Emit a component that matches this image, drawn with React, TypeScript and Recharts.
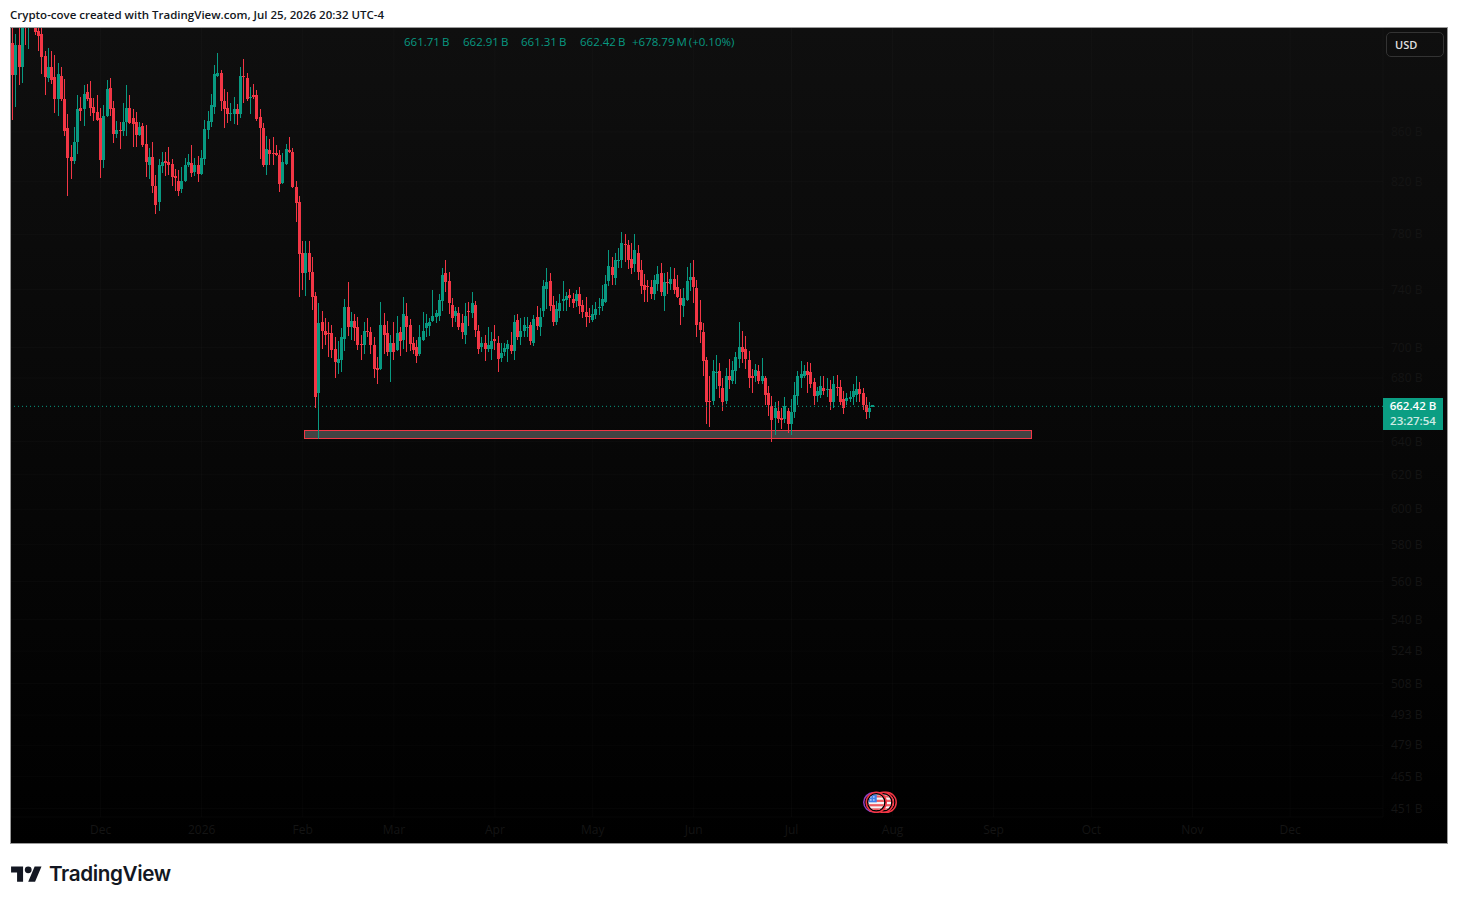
import { Bar, BarChart, CartesianGrid, ReferenceArea, ReferenceDot, ReferenceLine, XAxis, YAxis } from 'recharts';

const UI_FONT = '"Open Sans", "Noto Sans", sans-serif';
const UP = '#089981';
const DOWN = '#F23645';

// one row per day from 2025-11-04, values in billions of USD
const opens = [
  936.4, 908, 934.6, 915.3, 970, 952, 958, 955, 947, 944.2,
  924.7, 905, 915.3, 905.9, 887.8, 907.5, 887.8, 863.5, 840, 836.8,
  852, 879.4, 878.6, 893, 888.6, 881, 876.8, 871.8, 837.6, 873.5,
  896.4, 879.4, 858.6, 861.9, 861, 868.5, 879.4, 871.8, 868.5, 857.8,
  865.2, 850.5, 833.6, 840, 817.1, 804.7, 832.1, 836.8, 836, 834.4,
  824.2, 821, 814, 821, 832.9, 835.2, 828, 833.6, 826.5, 838.4,
  861.9, 868.5, 881, 907.5, 909.3, 886, 879.4, 875.2, 875.2, 878.6,
  875.2, 907.5, 905, 888.6, 890.4, 890.4, 872.7, 863.5, 832.9, 845,
  843.2, 843.2, 841.6, 818.7, 834.4, 845, 844, 815.6, 804.7, 766.5,
  752, 765.8, 752.7, 735, 670.6, 717, 711.5, 709.7, 709.5, 699.4,
  689.6, 692.1, 706.1, 728, 713.6, 718.3, 713.6, 702.7, 702, 711.5,
  710.8, 702, 686.8, 686.1, 715.6, 710, 697.4, 703.4, 698.7, 710.2,
  704.8, 721.7, 715.6, 703.4, 700.7, 695.6, 705.4, 712.9, 714.5, 718.3,
  721, 721.7, 731.5, 751.3, 745.6, 729.4, 721.7, 723.8, 716.3, 708.8,
  725.2, 723.8, 729.4, 711.5, 700.7, 703.4, 699.4, 699.4, 706.1, 703.4,
  693.4, 697.4, 699.4, 702, 698, 719, 707.4, 711.5, 713.8, 715.6,
  703.4, 721, 713.6, 725.2, 740.6, 745.6, 729.4, 717, 725.2, 731.7,
  732.2, 735.7, 732.9, 731.5, 736.4, 729.4, 724.5, 721.2, 719, 722.4,
  727.3, 728.7, 730.8, 745.6, 756.3, 748.4, 760.2, 761.4, 773.1, 772.3,
  762.1, 757.8, 766.5, 753.5, 743.4, 742.7, 742, 736.4, 744.1, 752,
  735, 744.9, 744.1, 747.7, 742, 733.6, 728.7, 732.2, 746.3, 749.1,
  741.3, 717.6, 710.2, 692, 665.5, 665.5, 683.5, 684.8, 673.8, 665.5,
  681.6, 677.8, 684.8, 692.7, 700.7, 699.4, 692, 681, 681, 684.8,
  677.8, 679.7, 670.6, 661.8, 654.8, 659.2, 654.8, 654.2, 659.2, 651.1,
  658, 668.7, 680.3, 681, 684.8, 684.2, 677.1, 668.7, 669.3, 673.8,
  672.8, 672.6, 664.3, 674.5, 674.5, 666.8, 665.5, 666.8, 668, 669.3,
  672.6, 670.6, 663, 658, 661.71,
];

const highs = [
  960, 944, 950, 965, 985, 975, 978, 965, 958, 950,
  929, 931.6, 929, 925.4, 918, 914.5, 904.7, 874.4, 848.9, 864.4,
  890.4, 889.5, 899, 900.4, 902.4, 888.6, 891.2, 879.4, 882, 903.3,
  905, 886, 869.3, 868.5, 883.8, 899, 891.2, 878.6, 876.8, 868.5,
  867.7, 866, 846.5, 852, 825, 838.4, 844, 844, 848, 838.4,
  829.7, 829, 832, 839.2, 842.4, 849.5, 839.2, 840.8, 845, 870.2,
  877.7, 892, 917, 926.8, 912, 895.5, 893, 883.6, 889.5, 882.8,
  915.3, 922, 910, 897.2, 900, 894.8, 878.6, 867.7, 856.8, 854.5,
  856.2, 849, 845, 843.2, 850.5, 855.4, 846.5, 821, 809.3, 775.3,
  774.6, 774.6, 763.5, 738.5, 730.1, 725.2, 720.4, 717.6, 715.6, 706.8,
  704.1, 712.9, 733, 744.9, 724.5, 723.1, 721, 708.8, 717, 720.4,
  714.2, 706.8, 694, 730.8, 723.8, 718.3, 708.8, 717.6, 721.7, 714.2,
  734.3, 730.1, 719.7, 706.8, 705.4, 715.6, 724.5, 723.1, 720.4, 739.9,
  725.9, 736.4, 754.9, 761.4, 752.7, 733.6, 728, 728, 723.1, 730.1,
  730.8, 738, 731.5, 715.6, 707.4, 708.8, 714.2, 710.8, 715.6, 708.1,
  703.4, 703.4, 705.4, 710.8, 722.4, 723.1, 720.4, 721, 721, 717.6,
  722.4, 728.7, 727.3, 747, 754.9, 752, 735, 731.5, 736.4, 745.6,
  738.5, 740.6, 737.1, 739.9, 742, 732.2, 734.3, 727.3, 729.4, 730.8,
  733.6, 743.4, 749.9, 768, 763.5, 765.8, 770.1, 782, 779.8, 776,
  773.8, 779.8, 772.3, 760.7, 750.6, 747, 746.3, 749.9, 757, 758.5,
  752, 752.7, 756.3, 755.6, 749.9, 740.6, 741.3, 756.3, 759.2, 760.7,
  746.3, 732.2, 716.3, 694, 681, 692, 695.4, 690, 679.7, 686.7,
  692.7, 691.4, 697.4, 717, 711.5, 708.1, 698, 686.1, 689.4, 688.7,
  693.4, 681, 675.1, 668.7, 664.9, 665.5, 660.5, 668, 661.1, 666.8,
  677.1, 684.8, 691.4, 688.7, 690.7, 690, 680.3, 674.5, 681, 681,
  680.3, 678.4, 681, 682.2, 679, 671.3, 670.6, 671.9, 675.8, 681.6,
  677.1, 673.8, 668, 664.3, 662.91,
];

const lows = [
  870, 881, 899, 900.8, 934.6, 931, 951, 943.7, 929, 908.4,
  891, 901.8, 900, 876, 873.5, 886, 856.8, 809.3, 821.8, 834.4,
  842.4, 869.3, 865.2, 886, 873.5, 869.3, 869.3, 822.6, 830.5, 872,
  873.5, 851.3, 855, 845.7, 856.8, 856.8, 866.5, 847.3, 848, 856.8,
  848, 823.4, 821.8, 810.9, 795.5, 797.8, 827.3, 824.2, 825, 817.1,
  813.2, 809.3, 810.9, 820.2, 832, 823.4, 824.2, 820.2, 825.7, 833.6,
  854.5, 864.4, 875.2, 906.2, 877.7, 863.5, 867.6, 869.3, 866.8, 866,
  871.8, 883.6, 886, 874.4, 887.8, 869.3, 838.4, 832, 825.7, 833.6,
  833.6, 840.8, 811.7, 818, 833.6, 843.2, 814.8, 789.4, 734.3, 739.9,
  735, 746.3, 725.9, 660.5, 641.8, 699.4, 702, 694, 693.4, 680.3,
  682.9, 684.2, 698, 707.6, 704.8, 704.1, 698.1, 692, 696, 706.8,
  696, 679.7, 675.8, 685.5, 696, 694.7, 677.1, 692, 698, 694.7,
  699.4, 697.4, 698, 696, 689.9, 694.7, 704.1, 707.4, 708.1, 717.6,
  716.3, 718.3, 725.2, 738.5, 723.1, 714.2, 717.6, 712.2, 706.1, 702.7,
  714.9, 720.4, 706.8, 696, 697.4, 691.4, 697.4, 692, 698.7, 684.2,
  690.7, 694.7, 690.7, 696, 692, 705.4, 702, 707.4, 706.8, 702,
  701.4, 712.2, 708.1, 721, 726.6, 725.2, 714.9, 715.6, 720.4, 725.2,
  725.2, 728, 727.3, 728, 723.1, 720.4, 713.6, 716.3, 717.6, 719.7,
  722.4, 725.2, 730.1, 742.7, 743.2, 743.4, 755.6, 755.6, 759.9, 754.2,
  750.6, 752.7, 746.3, 736.4, 730.8, 730.8, 733, 732.2, 739.2, 735,
  725.2, 736.4, 739.9, 736.4, 733.6, 715.6, 721, 731.5, 739.2, 730.1,
  707.4, 703.4, 681.2, 651.1, 649.2, 663, 672.6, 667.4, 659.2, 663.6,
  672.6, 676.4, 676.4, 686.7, 690, 686.1, 673.8, 670.6, 677.1, 676.4,
  676.4, 663, 656, 640, 644.3, 651.7, 648, 651.7, 645.5, 644.3,
  654.8, 663, 673.8, 679.7, 670.6, 673.8, 662.4, 664.9, 667.4, 669.3,
  668, 659.8, 661.1, 668.7, 663, 657.3, 662.4, 664.3, 662.4, 664.3,
  664.9, 659.8, 654.2, 654.8, 661.31,
];

const closes = [
  908, 934.6, 915.3, 955, 952, 965, 970, 946.4, 942.7, 923.8,
  906.2, 915.3, 904, 887.8, 908.4, 887.8, 861, 839.2, 836.8, 852,
  878.6, 877.7, 892, 887, 880.2, 876, 870.2, 837.6, 873.5, 895.5,
  878.6, 858.6, 861.9, 861.3, 868.5, 879.4, 867.6, 866.8, 857.8, 864.4,
  848.9, 836, 840, 817.1, 802.4, 832.9, 836, 835.2, 833.6, 823.4,
  822.6, 812.5, 821, 833.6, 836, 827.3, 833.6, 826.5, 839.2, 862.7,
  869.3, 882, 908.4, 909.3, 886, 878.6, 875.2, 876, 878.6, 874.4,
  906.7, 905.9, 887.8, 889.5, 889.5, 871, 863.5, 832.9, 845.7, 842.4,
  842.4, 841.6, 818, 836, 845.7, 844, 815.6, 803.8, 765.7, 751.3,
  765.8, 752.7, 734.3, 668.1, 716.3, 711.5, 708.8, 709.2, 698.7, 690.2,
  692.7, 706.8, 728, 713.6, 718.3, 712.9, 701.7, 702, 711.5, 711,
  701.6, 686.1, 685.5, 715.6, 708.8, 697.4, 703.4, 697.4, 709.5, 704.1,
  723.1, 714.2, 702.7, 698.7, 694.7, 706.8, 711.5, 716.3, 717, 721.7,
  723.8, 732.2, 749.9, 744.9, 730.1, 720.4, 725.2, 714.2, 710.2, 721.7,
  724.5, 730.1, 712.2, 699.4, 703.4, 699.4, 702, 704.1, 704.1, 692.7,
  696.7, 700, 702.7, 698, 717, 707.4, 711.5, 715.6, 714.2, 704.1,
  719.7, 714.9, 721, 742.7, 744.9, 728.7, 717.6, 726.6, 730.1, 732.9,
  735, 733.6, 730.1, 736.4, 728.7, 724.5, 721, 720.8, 723.1, 726.6,
  728, 732.9, 744.1, 756.6, 749.9, 760.7, 760.7, 773.8, 772.3, 761.4,
  755.6, 768, 752.7, 742.7, 739.9, 742, 736.4, 746.3, 750.6, 737.8,
  744.9, 744.4, 747.7, 739.9, 734.3, 729.4, 733.6, 745.6, 749.1, 742,
  715.6, 712.2, 691.4, 664.9, 664.3, 684.8, 684.2, 675.1, 664.3, 681.6,
  678.4, 685.5, 694, 700.7, 697.4, 692.7, 680.3, 679.7, 685.5, 677.8,
  681, 669.3, 662.4, 653.6, 660.5, 654.2, 653, 661.8, 651.1, 658,
  669.3, 681, 682.9, 684.8, 682.2, 676.4, 668.7, 671.3, 675.1, 671.3,
  673.2, 664.3, 676.4, 674.1, 664.9, 661.1, 667.4, 668, 671.3, 672.6,
  670, 663, 658.6, 661.1, 662.42,
];

const priceTicks = [860, 820, 780, 740, 700, 680, 640, 620, 600, 580, 560, 540, 524, 508, 493, 479, 465, 451];
const monthTicks = ['2025-12-01', '2026-01-01', '2026-02-01', '2026-03-01', '2026-04-01', '2026-05-01', '2026-06-01', '2026-07-01', '2026-08-01', '2026-09-01', '2026-10-01', '2026-11-01', '2026-12-01'];
const monthLabels = ['Dec', '2026', 'Feb', 'Mar', 'Apr', 'May', 'Jun', 'Jul', 'Aug', 'Sep', 'Oct', 'Nov', 'Dec'];
const legendValues = ['661.71 B', '662.91 B', '661.31 B', '662.42 B'];

// the time scale runs on past the last candle, up to the end of 2026
const DAYS_ON_AXIS = 421;
const data = Array.from({ length: DAYS_ON_AXIS }, (_, i) => {
  const date = new Date(Date.UTC(2025, 10, 4 + i)).toISOString().slice(0, 10);
  if (i >= opens.length) return { date, wick: null, body: null, up: true };
  return {
    date,
    wick: [lows[i], highs[i]],
    body: [Math.min(opens[i], closes[i]), Math.max(opens[i], closes[i])],
    up: closes[i] >= opens[i],
  };
});

const Wick = (props: any) => {
  if (!props.payload.wick) return null;
  const mid = props.x + props.width / 2;
  return <rect x={Math.round(mid - 0.5)} y={props.y} width={1} height={props.height} fill={props.payload.up ? UP : DOWN} shapeRendering="crispEdges" />;
};

const Body = (props: any) => {
  if (!props.payload.body) return null;
  const mid = props.x + props.width / 2;
  return <rect x={Math.round(mid - 1.5)} y={props.y} width={3} height={Math.max(props.height, 1)} fill={props.payload.up ? UP : DOWN} shapeRendering="crispEdges" />;
};

// economic event badge: ring, black gap, small round US flag
const FlagBadge = ({ cx, cy, id, ring }: any) => (
  <g>
    <circle cx={cx} cy={cy} r={10} fill="#000" stroke={ring} strokeWidth={1.5} />
    <clipPath id={id}><circle cx={cx} cy={cy} r={8} /></clipPath>
    <g clipPath={`url(#${id})`}>
      <rect x={cx - 8} y={cy - 8} width={16} height={16} fill="#f4f4f4" />
      <rect x={cx - 8} y={cy - 7} width={16} height={2.2} fill="#ee5a5f" />
      <rect x={cx - 8} y={cy - 2.6} width={16} height={2.2} fill="#ee5a5f" />
      <rect x={cx - 8} y={cy + 1.8} width={16} height={2.2} fill="#ee5a5f" />
      <rect x={cx - 8} y={cy + 6} width={16} height={2.2} fill="#ee5a5f" />
      <rect x={cx - 8} y={cy - 8} width={8.5} height={8} fill="#3f7fe8" />
      <rect x={cx - 6} y={cy - 6} width={1.2} height={1.2} fill="#fff" />
      <rect x={cx - 3} y={cy - 6} width={1.2} height={1.2} fill="#fff" />
      <rect x={cx - 6} y={cy - 3} width={1.2} height={1.2} fill="#fff" />
      <rect x={cx - 3} y={cy - 3} width={1.2} height={1.2} fill="#fff" />
    </g>
  </g>
);

const EventFlags = ({ cx, cy }: any) => (
  <g>
    <circle cx={cx - 3} cy={cy} r={9.5} fill="#000" stroke="#8e3fc0" strokeWidth={1.5} />
    <FlagBadge cx={cx + 10} cy={cy} id="flagC" ring={DOWN} />
    <FlagBadge cx={cx + 7} cy={cy} id="flagB" ring={DOWN} />
    <FlagBadge cx={cx} cy={cy} id="flagA" ring={DOWN} />
  </g>
);

const TvLogo = () => (
  <svg width={31} height={24} viewBox="0 0 36 28" style={{ position: 'absolute', left: 11, top: 863 }}>
    <path d="M14 22H7V11H0V4h14v18zM28 22h-8l7.5-18h8L28 22z" fill="#131722" />
    <circle cx={20} cy={8} r={4} fill="#131722" />
  </svg>
);

const legendStyle = (left: number) => ({ position: 'absolute' as const, left, top: 34, fontSize: 11.5, lineHeight: '16px', wordSpacing: -1, color: UP, whiteSpace: 'nowrap' as const, fontFamily: UI_FONT });

export default function App() {
  return (
    <div style={{ position: 'absolute', left: 0, top: 0, width: 1458, height: 904, background: '#fff', overflow: 'hidden', fontFamily: UI_FONT }}>
      <div style={{ position: 'absolute', left: 10, top: 7, fontSize: 11.5, lineHeight: '16px', color: '#131722', fontWeight: 600, whiteSpace: 'nowrap' }}>
        Crypto-cove created with TradingView.com, Jul 25, 2026 20:32 UTC-4
      </div>

      <div style={{ position: 'absolute', left: 10, top: 27, width: 1436, height: 815, border: '1px solid #9a9a9a', background: 'linear-gradient(#0f0f0f, #000)' }} />

      <div style={{ position: 'absolute', left: 0, top: 0 }}>
        <BarChart width={1458} height={904} data={data} margin={{ top: 28, right: 11, bottom: 61, left: 11 }}>
          <CartesianGrid stroke="rgba(255,255,255,0.025)" />
          <XAxis
            dataKey="date"
            ticks={monthTicks}
            interval={0}
            height={26}
            tickLine={false}
            axisLine={false}
            tickMargin={2}
            tick={{ fill: '#141414', fontSize: 12, fontFamily: UI_FONT }}
            tickFormatter={(v: string) => monthLabels[monthTicks.indexOf(v)]}
          />
          <XAxis xAxisId="wick" dataKey="date" hide />
          <YAxis
            orientation="right"
            scale="log"
            domain={[447.3, 949.6]}
            allowDataOverflow
            ticks={priceTicks}
            interval={0}
            width={64}
            tickLine={false}
            axisLine={false}
            tickMargin={2}
            tick={{ fill: '#141414', fontSize: 12, fontFamily: UI_FONT }}
            tickFormatter={(v: number) => `${v} B`}
          />
          <ReferenceArea x1="2026-02-02" x2="2026-09-12" y1={647} y2={641.6} fill="#434343" fillOpacity={1} stroke={DOWN} strokeWidth={1} shapeRendering="crispEdges" />
          <ReferenceLine y={661.86} stroke={UP} strokeDasharray="1 3" />
          <Bar xAxisId="wick" dataKey="wick" barSize={1} shape={Wick} isAnimationActive={false} />
          <Bar dataKey="body" barSize={3} shape={Body} isAnimationActive={false} />
          <ReferenceDot x="2026-07-27" y={453.6} r={10} shape={EventFlags} />
        </BarChart>
      </div>

      <div style={legendStyle(404)}>{legendValues[0]}</div>
      <div style={legendStyle(463)}>{legendValues[1]}</div>
      <div style={legendStyle(521)}>{legendValues[2]}</div>
      <div style={legendStyle(580)}>{legendValues[3]}</div>
      <div style={legendStyle(632)}>+678.79 M (+0.10%)</div>

      <div style={{ position: 'absolute', left: 1386, top: 32, width: 58, height: 25, boxSizing: 'border-box', border: '1.5px solid #333', borderRadius: 5, color: '#e0e0e0', fontSize: 11, fontWeight: 600, lineHeight: '23px', paddingLeft: 8 }}>USD</div>

      <div style={{ position: 'absolute', left: 1383, top: 398, width: 60, height: 31, background: '#0b9e83', textAlign: 'center', fontSize: 11.5, lineHeight: '14.5px', color: '#fff', fontWeight: 600, paddingTop: 1 }}>
        <div>662.42 B</div>
        <div style={{ opacity: 0.8 }}>23:27:54</div>
      </div>

      <TvLogo />
      <div style={{ position: 'absolute', left: 49, top: 859, fontFamily: 'Inter, sans-serif', fontSize: 20.7, lineHeight: '30px', fontWeight: 600, color: '#131722', letterSpacing: -0.4, whiteSpace: 'nowrap' }}>TradingView</div>
    </div>
  );
}
